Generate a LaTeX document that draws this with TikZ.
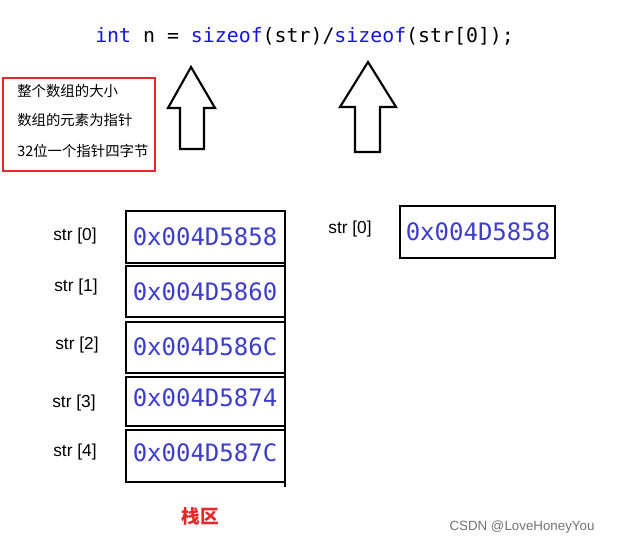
\documentclass[tikz,border=0pt]{standalone}
\usepackage{fontspec}
\setmainfont{Liberation Sans}
\setmonofont{DejaVu Sans Mono}
\newfontfamily\cjk{Noto Sans CJK SC}
\definecolor{kw}{RGB}{20,20,230}
\definecolor{addr}{RGB}{60,60,205}
\definecolor{redb}{RGB}{230,40,40}
\begin{document}
\begin{tikzpicture}[x=0.75pt,y=-0.75pt,
  cell/.style={draw=black,line width=2.2pt},
  addrtxt/.style={font=\ttfamily\fontsize{18}{20}\selectfont,text=addr},
  lbl/.style={font=\fontsize{13}{15}\selectfont},
  bigarrow/.style={draw=black,line width=1.6pt,fill=white},
  note/.style={font=\cjk\fontsize{10.8}{13}\selectfont,anchor=west,inner sep=0}]
\useasboundingbox (0,0) rectangle (620,546);
\node[anchor=west,inner sep=0,font=\ttfamily\fontsize{14.9}{17}\selectfont] (code) at (95,36)
 {\textcolor{kw}{int} n = \textcolor{kw}{sizeof}(str)/\textcolor{kw}{sizeof}(str[0]);};
% note box
\path[draw=redb,line width=1.5pt] (3,78) rectangle (155,171);
\node[note] (n1) at (17,91) {整个数组的大小};
\node[note] (n2) at (17,120) {数组的元素为指针};
\node[note] (n3) at (17,151) {32位一个指针四字节};
% arrows
\draw[bigarrow] (191,67) -- (215,108) -- (204,108) -- (204,149) -- (180,149) -- (180,108) -- (168,108) -- cycle;
\draw[bigarrow] (368,62) -- (396,107) -- (380,107) -- (380,152) -- (355,152) -- (355,107) -- (340,107) -- cycle;
% memory
\foreach \i/\t/\b/\a/\y in {0/211/263/0x004D5858/237,1/266/317/0x004D5860/292,2/322/373/0x004D586C/347,3/377/426/0x004D5874/398,4/430/482/0x004D587C/453}{
  \draw[cell] (284,\t) -- (126,\t) -- (126,\b) -- (284,\b);
  \node[addrtxt] (a\i) at (205,\y) {\a};
}
\node[lbl] (s0) at (75,236) {str [0]};
\node[lbl] (s1) at (76,287) {str [1]};
\node[lbl] (s2) at (77,345) {str [2]};
\node[lbl] (s3) at (74,403) {str [3]};
\node[lbl] (s4) at (75,452) {str [4]};
\draw[line width=2.2pt] (285,210) -- (285,487);
% right
\node[lbl] (r0) at (350,229) {str [0]};
\draw[cell] (555,206) -- (400,206) -- (400,258) -- (555,258);
\draw[line width=1pt] (555,205) -- (555,259);
\node[addrtxt] (ra) at (478,232) {0x004D5858};
\node[font=\cjk\bfseries\fontsize{14}{16}\selectfont,text=redb] (zq) at (200,516) {栈区};
\node[font=\fontsize{10}{12}\selectfont,text=black!55] (wm) at (522,527) {CSDN @LoveHoneyYou};
\end{tikzpicture}
\end{document}
